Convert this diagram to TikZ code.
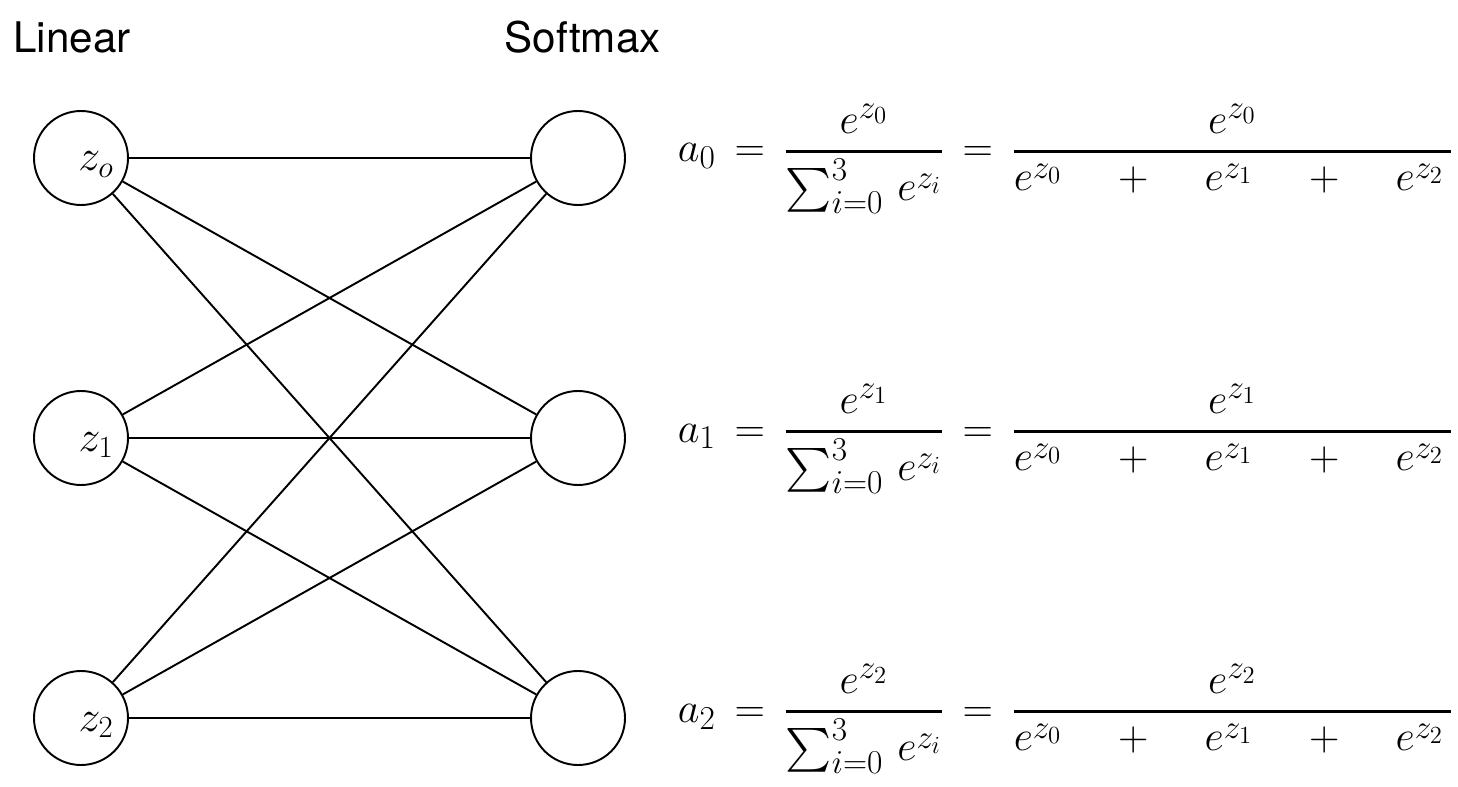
\RequirePackage{fix-cm}
\documentclass[tikz,border=0pt]{standalone}
\usepackage{amsmath}
\usepackage{fontspec}
\newfontfamily\headfont{TeX Gyre Heros}
\DeclareMathSizes{24}{24}{19}{14}
\newcommand{\softfrac}[2]{\genfrac{}{}{1.3pt}{}{#1}{#2}}

\tikzset{
  neuron/.style={draw, circle, minimum size=1.88cm, inner sep=0pt},
  zlabel/.style={anchor=base, font=\fontsize{25}{30}\selectfont},
  layertitle/.style={anchor=base west, font=\headfont\fontsize{24}{28}\selectfont},
  softeq/.style={anchor=base west, inner sep=0pt, font=\fontsize{24}{30}\selectfont},
}

\begin{document}
\begin{tikzpicture}[line width=1.1pt]
  \useasboundingbox (0,0) rectangle (29.16,-15.74);
  % layer titles
  \node[layertitle] (lin) at (0.13,-1.06) {Linear};
  \node[layertitle] (soft) at (9.96,-1.06) {Softmax};
  % neurons
  \foreach \i/\y in {0/-3.16,1/-8.76,2/-14.36} {
    \node[neuron] (z\i) at (1.62,\y) {};
    \node[neuron] (s\i) at (11.56,\y) {};
  }
  \node[zlabel] (l0) at ([xshift=0.3cm,yshift=-0.26cm]z0.center) {$z_o$};
  \node[zlabel] (l1) at ([xshift=0.3cm,yshift=-0.26cm]z1.center) {$z_1$};
  \node[zlabel] (l2) at ([xshift=0.3cm,yshift=-0.26cm]z2.center) {$z_2$};
  % all connections
  \foreach \i in {0,1,2}
    \foreach \j in {0,1,2}
      \draw (z\i) -- (s\j);
  % softmax outputs
  \foreach \i/\y in {0/-3.16,1/-8.76,2/-14.36}
    \node[softeq] (a\i) at (13.54,\y-0.08) {$\displaystyle a_\i \,=\, \softfrac{e^{z_\i}}{\sum_{i=0}^{3}\, e^{z_i}} \,=\, \softfrac{e^{z_\i}}{e^{z_0} \mskip20mu + \mskip20mu e^{z_1} \mskip20mu + \mskip20mu e^{z_2}\,}$};
\end{tikzpicture}
\end{document}
